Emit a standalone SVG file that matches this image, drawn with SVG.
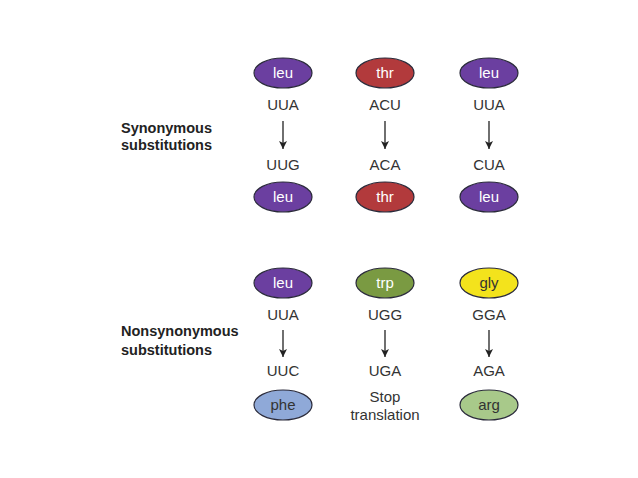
<svg xmlns="http://www.w3.org/2000/svg" width="638" height="478" viewBox="0 0 638 478">
<style>
text{font-family:"Liberation Sans",Arial,sans-serif;font-size:15px;fill:#333;text-anchor:middle}
.lbl{font-weight:bold;text-anchor:start;fill:#222;font-size:14.5px}
.e{stroke:#2a2a3a;stroke-width:1.2}
.w{fill:#fff}
.pu{fill:#6b3fa0}.rd{fill:#b23a3c}.gr{fill:#7a9a42}.ye{fill:#f3e31c}.bl{fill:#8fa9d8}.lg{fill:#a8c98a}
.c line{stroke:#222;stroke-width:1.3;marker-end:url(#a)}
</style>
<defs><marker id="a" markerWidth="8" markerHeight="8" refX="8" refY="4" orient="auto" markerUnits="userSpaceOnUse"><path d="M0,0 L8,4 L0,8 L2,4 Z" fill="#222"/></marker></defs>
<rect width="638" height="478" fill="#fff"/>
<text class="lbl" x="121" y="133">Synonymous</text>
<text class="lbl" x="121" y="150">substitutions</text>
<text class="lbl" x="121" y="336">Nonsynonymous</text>
<text class="lbl" x="121" y="355">substitutions</text>
<g id="n1"><ellipse class="e pu" cx="283" cy="73" rx="29" ry="15"/><text class="w" x="283" y="78">leu</text></g>
<g id="n2"><ellipse class="e rd" cx="385" cy="73" rx="29" ry="15"/><text class="w" x="385" y="78">thr</text></g>
<g id="n3"><ellipse class="e pu" cx="489" cy="73" rx="29" ry="15"/><text class="w" x="489" y="78">leu</text></g>
<text x="283" y="110">UUA</text><text x="385" y="110">ACU</text><text x="489" y="110">UUA</text>
<text x="283" y="170">UUG</text><text x="385" y="170">ACA</text><text x="489" y="170">CUA</text>
<g id="n4"><ellipse class="e pu" cx="283" cy="197" rx="29" ry="15"/><text class="w" x="283" y="202">leu</text></g>
<g id="n5"><ellipse class="e rd" cx="385" cy="197" rx="29" ry="15"/><text class="w" x="385" y="202">thr</text></g>
<g id="n6"><ellipse class="e pu" cx="489" cy="197" rx="29" ry="15"/><text class="w" x="489" y="202">leu</text></g>
<g id="n7"><ellipse class="e pu" cx="283" cy="283" rx="29" ry="15"/><text class="w" x="283" y="288">leu</text></g>
<g id="n8"><ellipse class="e gr" cx="385" cy="283" rx="29" ry="15"/><text class="w" x="385" y="288">trp</text></g>
<g id="n9"><ellipse class="e ye" cx="489" cy="283" rx="29" ry="15"/><text x="489" y="288">gly</text></g>
<text x="283" y="320">UUA</text><text x="385" y="320">UGG</text><text x="489" y="320">GGA</text>
<text x="283" y="376">UUC</text><text x="385" y="376">UGA</text><text x="489" y="376">AGA</text>
<g id="n10"><ellipse class="e bl" cx="283" cy="405" rx="29" ry="15"/><text x="283" y="410">phe</text></g>
<g id="n11"><text x="385" y="402">Stop</text><text x="385" y="420">translation</text></g>
<g id="n12"><ellipse class="e lg" cx="489" cy="405" rx="29" ry="15"/><text x="489" y="410">arg</text></g>
<g class="c">
<line x1="283" y1="121" x2="283" y2="149"/><line x1="385" y1="121" x2="385" y2="149"/><line x1="489" y1="121" x2="489" y2="149"/>
<line x1="283" y1="330" x2="283" y2="357"/><line x1="385" y1="330" x2="385" y2="357"/><line x1="489" y1="330" x2="489" y2="357"/>
</g>
</svg>
